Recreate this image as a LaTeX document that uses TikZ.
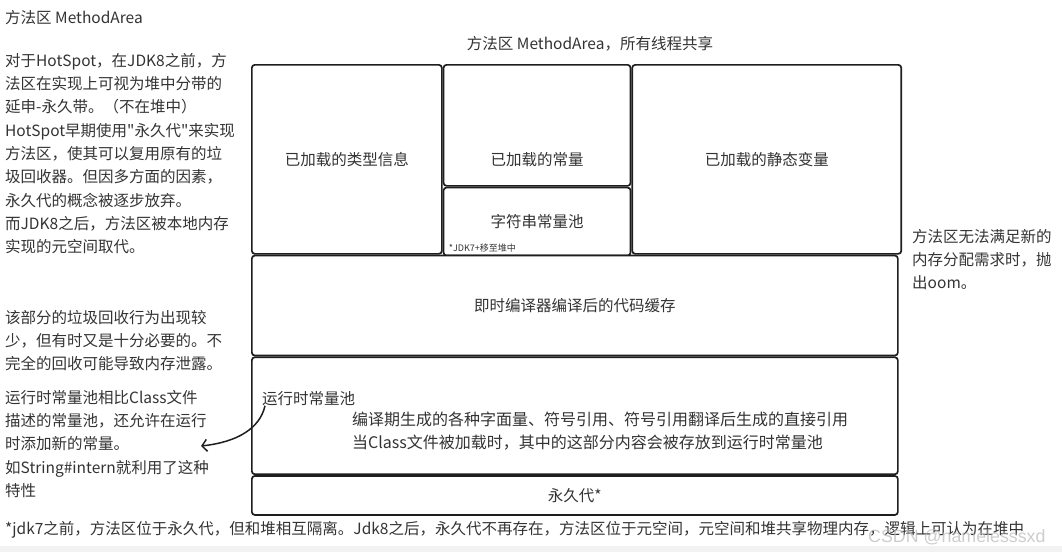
\documentclass[tikz,border=0pt]{standalone}
\usepackage{fontspec}
\setmainfont{Noto Sans CJK SC}[Ligatures=TeXOff]
\newfontfamily\wmfont{Liberation Sans}
\usepackage{tikz}
\usetikzlibrary{arrows.meta,positioning}
\definecolor{lineDark}{HTML}{1E1E1E}
\definecolor{textGray}{HTML}{333333}
\definecolor{bandGray}{HTML}{F2F2F2}
\definecolor{markGray}{HTML}{B8B8B8}

\begin{document}
\begin{tikzpicture}[
  x=1pt,y=-1pt,
  box/.style={rounded corners=3pt,draw=lineDark,line width=1.7pt,fill=white,anchor=north west,inner sep=0pt,align=center,text=textGray,font=\fontsize{15.5}{18}\selectfont},
  note/.style={anchor=north west,inner sep=0pt,align=left,text=textGray,font=\fontsize{15.5}{23.3}\selectfont},
  lbl/.style={inner sep=0pt,text=textGray,font=\fontsize{15.5}{18}\selectfont},
  tiny/.style={anchor=west,inner sep=0pt,text=textGray,font=\fontsize{9}{11}\selectfont},
  arrow/.style={-{Straight Barb[length=5pt,width=12pt]},draw=lineDark,line width=1.5pt}
]
\useasboundingbox (0,0) rectangle (1062,552);
\fill[bandGray] (0,546) rectangle (1062,552);

% method area blocks
\node[box,minimum width=190pt,minimum height=189pt] (type) at (251,64) {已加载的类型信息};
\node[box,minimum width=187pt,minimum height=121pt,anchor=north west] (const) at (type.north east) {};
\node[box,minimum width=187pt,minimum height=68pt,below=0pt of const] (strpool) {字符串常量池};
\node[box,minimum width=269pt,minimum height=189pt,anchor=north west] (static) at (const.north east) {已加载的静态变量};
\node[box,minimum width=646pt,minimum height=100pt,anchor=north west] (jit) at (type.south west) {即时编译器编译后的代码缓存};
\node[box,minimum width=646pt,minimum height=117pt,below=0pt of jit] (rtpool) {};
\node[box,minimum width=646pt,minimum height=39pt,below=0pt of rtpool] (perm) {永久代*};

\node[lbl] (constlbl) at ([yshift=27pt]const.south) {已加载的常量};
\node[tiny] (jdk7) at ([shift={(6pt,8pt)}]strpool.south west) {*JDK7+移至堆中};
\node[lbl,anchor=west] (rtlabel) at ([shift={(11pt,-42pt)}]rtpool.north west) {运行时常量池};
\node[note,anchor=west,font=\fontsize{16}{23.3}\selectfont] (rtbody) at ([shift={(101pt,-75pt)}]rtpool.north west)
  {编译期生成的各种字面量、符号引用、符号引用翻译后生成的直接引用\\当Class文件被加载时，其中的这部分内容会被存放到运行时常量池};

% titles and side notes
\node[lbl] (areatitle) at (590,44) {方法区 MethodArea，所有线程共享};
\node[lbl,anchor=west] (pagetitle) at (5,18) {方法区 MethodArea};
\node[note] (noteA) at (5,53) {对于HotSpot，在JDK8之前，方\\法区在实现上可视为堆中分带的\\延申-永久带。（不在堆中）\\HotSpot早期使用"永久代"来实现\\方法区，使其可以复用原有的垃\\圾回收器。但因多方面的因素，\\永久代的概念被逐步放弃。\\而JDK8之后，方法区被本地内存\\实现的元空间取代。};
\node[note] (noteB) at (5,310) {该部分的垃圾回收行为出现较\\少，但有时又是十分必要的。不\\完全的回收可能导致内存泄露。};
\node[note] (noteC) at (5,390) {运行时常量池相比Class文件\\描述的常量池，还允许在运行\\时添加新的常量。\\如String\#intern就利用了这种\\特性};
\node[note] (oomnote) at (912,229) {方法区无法满足新的\\内存分配需求时，抛\\出oom。};
\node[lbl,anchor=west] (footnote) at (5,530) {*jdk7之前，方法区位于永久代，但和堆相互隔离。Jdk8之后，永久代不再存在，方法区位于元空间，元空间和堆共享物理内存，逻辑上可认为在堆中};
\node[inner sep=0pt,anchor=west,text=markGray,opacity=0.7,font=\wmfont\fontsize{17.8}{20}\selectfont] (wmark) at (868,537) {CSDN @namelesssxd};

\coordinate (rttip) at (201,446);
\draw[arrow] ([xshift=3pt]rtlabel.south west) .. controls (260,428) and (238,442) .. (rttip);
\end{tikzpicture}
\end{document}
